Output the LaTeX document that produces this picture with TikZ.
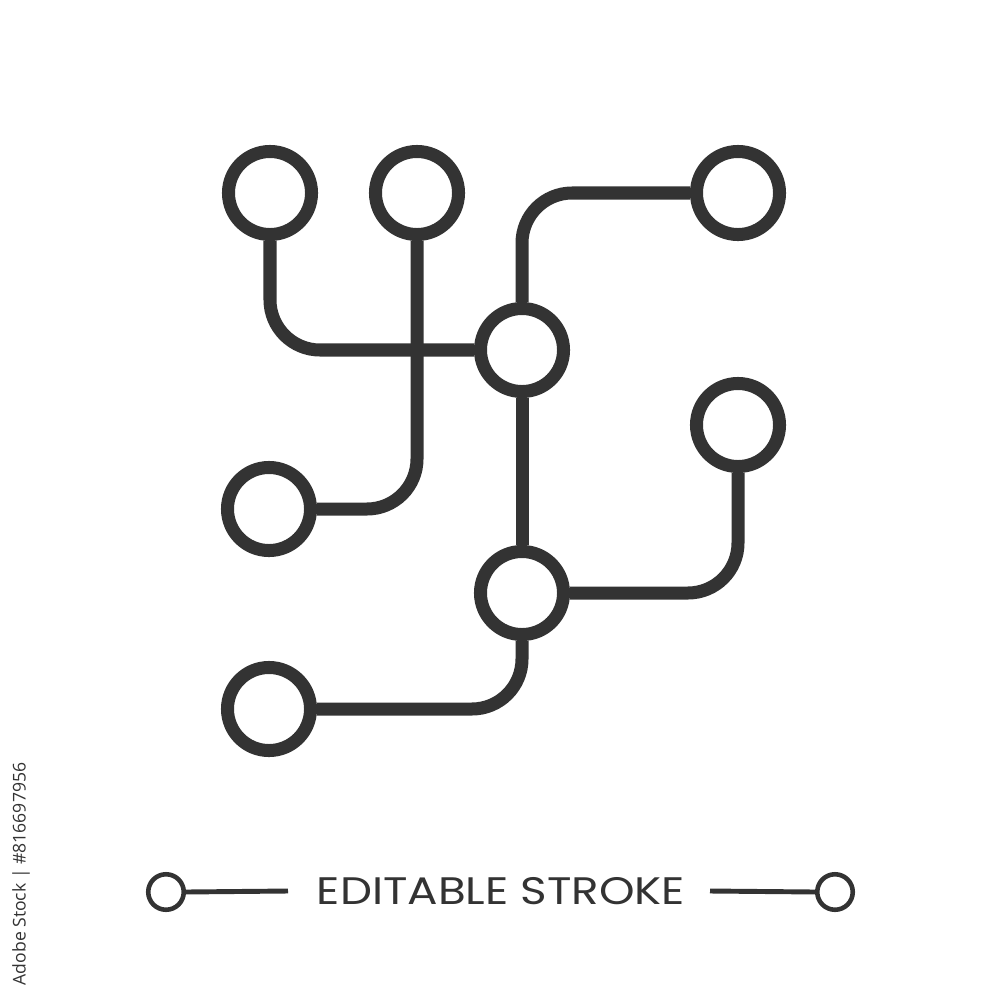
\documentclass[tikz,border=0pt]{standalone}
\usepackage{fontspec}
\newfontfamily\capfont{Poppins}
\newfontfamily\sidefont{Open Sans}
\definecolor{ink}{RGB}{51,51,51}
\begin{document}
\begin{tikzpicture}[x=0.01cm,y=-0.01cm,
  ring/.style={circle,draw=ink,line width=3.7pt,minimum size=0.83cm,inner sep=0pt},
  link/.style={draw=ink,line width=3.7pt,rounded corners=0.5cm},
  minring/.style={circle,draw=ink,line width=1.3pt,minimum size=0.355cm,inner sep=0pt},
  minlink/.style={draw=ink,line width=1.4pt}]
\useasboundingbox[fill=white] (0,0) rectangle (1000,1000);
% rings
\node[ring] (A) at (270,193) {};
\node[ring] (B) at (417,193) {};
\node[ring] (C) at (738,193) {};
\node[ring] (D) at (522,350) {};
\node[ring] (E) at (738,425) {};
\node[ring] (F) at (269,509) {};
\node[ring] (G) at (522,593) {};
\node[ring] (H) at (269,709) {};
% links
\draw[link] (A.south) |- (D.west);
\draw[link] (B.south) |- (F.east);
\draw[link] (D.north) |- (C.west);
\draw[link] (D.south) -- (G.north);
\draw[link] (G.east) -| (E.south);
\draw[link] (G.south) |- (H.east);
% footer
\node[minring] (L) at (166,892) {};
\node[minring] (R) at (835,892) {};
\coordinate (Lend) at (288,891);
\coordinate (Rend) at (710,891);
\draw[minlink] (L.east) -- (Lend);
\draw[minlink] (Rend) -- (R.west);
\node[text=ink,inner sep=0pt] (label) at (501,891.5) {\scalebox{1.18}[1]{\capfont\fontsize{10.9pt}{13pt}\selectfont EDITABLE STROKE}};
\node[rotate=90,text=ink,inner sep=0pt] (side) at (21,874) {\sidefont\fontsize{5pt}{6pt}\selectfont Adobe Stock | \#816697956};
\end{tikzpicture}
\end{document}
